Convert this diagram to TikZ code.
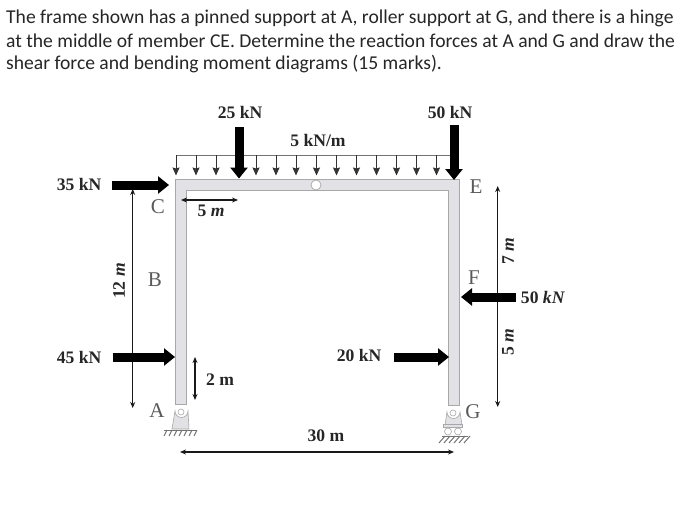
\documentclass[tikz,border=0pt]{standalone}
\usepackage{fontspec}
\setmainfont{Liberation Serif}
\newfontfamily\bodyfont{Carlito}
\usetikzlibrary{arrows.meta}
\definecolor{memberfill}{HTML}{E2E2E6}
\definecolor{memberline}{HTML}{A8A8A8}
\definecolor{letter}{HTML}{5A5A5A}
\tikzset{
  para/.style={anchor=base west,inner sep=0pt,font=\bodyfont\fontsize{19.6}{22}\selectfont,text=black!85},
  lab/.style={inner sep=0pt,font=\bfseries\fontsize{17.6}{20}\selectfont,text=black!85},
  pt/.style={inner sep=0pt,font=\fontsize{21}{22}\selectfont,text=letter},
  bigarrow/.style={line width=9pt,-{Triangle[length=11pt,width=17pt]},black},
  udl/.style={line width=.9pt,-{Stealth[length=8pt,width=7pt,inset=1pt]},black!80},
  dimline/.style={line width=1.1pt,{Stealth[length=6pt,width=5pt]}-{Stealth[length=6pt,width=5pt]},black!90},
  support/.style={fill=memberfill,draw=memberline,line width=.6pt},
  hatch/.style={line width=1pt,black!55}
}
\begin{document}
\begin{tikzpicture}[x=1pt,y=-1pt]
\useasboundingbox (0,0) rectangle (700,505);
\fill[white] (0,0) rectangle (700,505);
% problem statement
\node[para] (l1) at (6,24) {The frame shown has a pinned support at A, roller support at G, and there is a hinge};
\node[para] (l2) at (6,47.5) {at the middle of member CE. Determine the reaction forces at A and G and draw the};
\node[para] (l3) at (6,70) {shear force and bending moment diagrams (15 marks).};
% frame
\filldraw[fill=memberfill,draw=memberline,line width=.8pt]
  (175,404) -- (175,179.5) -- (459,179.5) -- (459,405) -- (448,405) -- (448,190.5) -- (186,190.5) -- (186,404) -- cycle;
\node[circle,fill=white,draw=memberline,line width=.7pt,minimum size=10pt,inner sep=0pt] (hinge) at (316,185) {};
% support A
\filldraw[support] (172,429) -- (175,411) arc[start angle=180,end angle=0,radius=6.5] -- (189,429) -- cycle;
\node[circle,draw=memberline,line width=.6pt,minimum size=6pt,inner sep=0pt] (pinA) at (181,412) {};
\draw[hatch] (164,430) -- (196,430);
\foreach \x in {167,172,177,182,187,192,197} \draw[hatch] (\x,430) -- (\x-3,436);
% support G
\filldraw[support] (445,425) -- (447,412) arc[start angle=180,end angle=0,radius=6.5] -- (462,425) -- cycle;
\node[circle,draw=memberline,line width=.6pt,minimum size=6pt,inner sep=0pt] (pinG) at (453,413) {};
\filldraw[support] (443,424.5) rectangle (462,427);
\node[circle,fill=white,draw=memberline,line width=.6pt,minimum size=7pt,inner sep=0pt] (rollL) at (448,431.5) {};
\node[circle,fill=white,draw=memberline,line width=.6pt,minimum size=7pt,inner sep=0pt] (rollR) at (458,431.5) {};
\draw[hatch] (442,436) -- (468,436);
\foreach \x in {445,450,455,460,465,470} \draw[hatch] (\x,436) -- (\x-6,443);
% distributed load
\coordinate (udlL) at (176,155);
\coordinate (udlR) at (452,155);
\draw[line width=1pt,black!55] (udlL) -- (udlR);
\foreach \x in {176,196,216,256,276,296,316.5,336.5,356.5,376.5,396.5,416.5,436.5}{
  \coordinate (t) at (\x,155);
  \coordinate (h) at (\x,175.5);
  \draw[udl] (t) -- (h);
}
% point loads
\coordinate (a25s) at (239,127);  \coordinate (a25e) at (239,178.5);
\coordinate (a50s) at (454,125);  \coordinate (a50e) at (454,180);
\coordinate (a35s) at (112,185);  \coordinate (a35e) at (169,185);
\coordinate (a45s) at (112.5,357);\coordinate (a45e) at (175,357);
\coordinate (a20s) at (394,357);  \coordinate (a20e) at (449,357);
\coordinate (a50hs) at (516,297); \coordinate (a50he) at (461,297);
% dimension lines (below the point loads)
\coordinate (d12a) at (132.7,189); \coordinate (d12b) at (132.7,408);
\coordinate (d5a) at (181,200);    \coordinate (d5b) at (238,200);
\coordinate (d2a) at (195,357);    \coordinate (d2b) at (195,400);
\coordinate (d30a) at (180,452);   \coordinate (d30b) at (454,452);
\coordinate (d75a) at (497.7,186); \coordinate (d75b) at (497.7,407);
\draw[dimline] (d12a) -- (d12b);
\draw[dimline] (d5a) -- (d5b);
\draw[dimline,line width=1.4pt] (d2a) -- (d2b);
\draw[dimline] (d30a) -- (d30b);
\draw[dimline] (d75a) -- (d75b);
\foreach \s/\e in {a25s/a25e,a50s/a50e,a35s/a35e,a45s/a45e,a20s/a20e,a50hs/a50he}
  \draw[bigarrow] (\s) -- (\e);
% load labels
\node[lab] (t25) at (240,112) {25 kN};
\node[lab] (t50) at (450,112) {50 kN};
\node[lab] (tq) at (318,140) {5 kN/m};
\node[lab] (t35) at (79,184) {35 kN};
\node[lab] (t45) at (79,357) {45 kN};
\node[lab] (t20) at (359,355) {20 kN};
\node[lab] (t50h) at (543,297) {50 \textit{kN}};
% dimension labels
\node[lab] (m5) at (211,211) {5 \textit{m}};
\node[lab] (m2) at (220,380) {2 m};
\node[lab] (m30) at (326,436) {30 m};
\node[lab,rotate=90] (m12) at (119,281) {12 \textit{m}};
\node[lab,rotate=90] (m7) at (508,251) {7 \textit{m}};
\node[lab,rotate=90] (m5b) at (508,342) {5 \textit{m}};
% point letters
\node[pt] (C) at (158,207) {C};
\node[pt] (B) at (155,280) {B};
\node[pt] (A) at (157,411) {A};
\node[pt] (E) at (476,187) {E};
\node[pt] (F) at (474,278) {F};
\node[pt] (G) at (473,412) {G};
\end{tikzpicture}
\end{document}
